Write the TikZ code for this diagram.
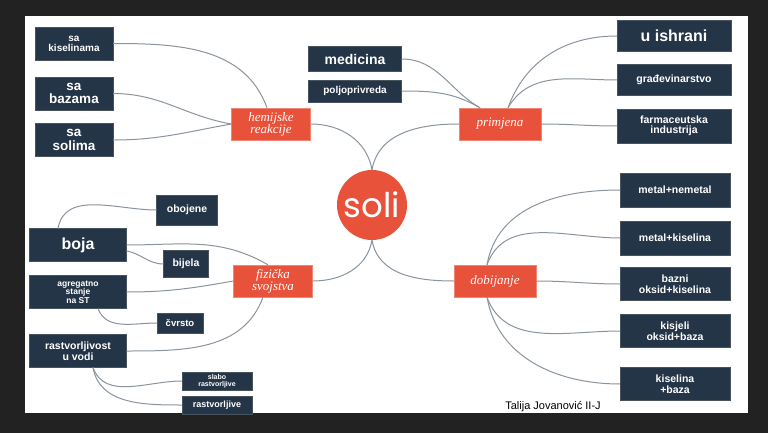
\documentclass[tikz,border=0pt]{standalone}
\usepackage{fontspec}
\setmainfont{Liberation Sans}
\newfontfamily\redf{Liberation Serif}
\newfontfamily\solif{Poppins}
\definecolor{navy}{HTML}{253548}
\definecolor{redb}{HTML}{E8513A}
\definecolor{bg}{HTML}{222222}
\definecolor{ln}{HTML}{8A949E}
\begin{document}
\begin{tikzpicture}[x=1pt,y=-1pt,
  nb/.style={fill=navy,text=white,font=\bfseries\fontsize{#1}{#1}\selectfont,align=center,inner sep=0pt,outer sep=0pt,draw=navy!60!gray,line width=0.6pt},
  nb/.default=9,
  rb/.style={fill=redb,text=white,font=\redf\itshape\fontsize{13}{12}\selectfont,align=center,inner sep=0pt,minimum width=79pt,minimum height=32pt,draw=redb!70!white},
  cn/.style={draw=ln,line width=1pt}]
\useasboundingbox (0,0) rectangle (768,433);
\fill[bg] (0,0) rectangle (768,433);
\fill[white] (25,16) rectangle (748,413);
% nodes
\node[nb=10,minimum width=78pt,minimum height=33pt] (k) at (74,43.5) {sa\\kiselinama};
\node[nb=13.5,minimum width=78pt,minimum height=33pt] (b) at (74,93.5) {sa\\bazama};
\node[nb=13.5,minimum width=78pt,minimum height=33pt] (s) at (74,140) {sa\\solima};
\node[rb] (h) at (271,124) {hemijske\\reakcije};
\node[nb=14,minimum width=93pt,minimum height=25pt] (med) at (355,59) {medicina};
\node[nb=10,minimum width=93pt,minimum height=22pt] (pol) at (355,91) {poljoprivreda};
\node[rb,minimum width=82pt] (pr) at (500,124) {primjena};
\node[nb=16,minimum width=114pt,minimum height=31pt] (ui) at (674,36) {u ishrani};
\node[nb=10.5,minimum width=114pt,minimum height=31pt] (gr) at (674,80) {građevinarstvo};
\node[nb=10.5,minimum width=114pt,minimum height=34pt] (fa) at (674,126) {farmaceutska\\industrija};
\node[circle,fill=redb,minimum size=70pt,text=white,font=\solif\fontsize{34}{34}\selectfont,inner sep=0pt] (soli) at (372,205) {soli};
\node[rb] (fz) at (273,281) {fizička\\svojstva};
\node[rb,minimum width=82pt] (db) at (495,281) {dobijanje};
\node[nb=10.5,minimum width=61pt,minimum height=30pt] (ob) at (187,210) {obojene};
\node[nb=16,minimum width=97pt,minimum height=33pt] (bo) at (78,245) {boja};
\node[nb=8.5,minimum width=97pt,minimum height=33pt] (ag) at (78,292) {agregatno\\stanje\\na ST};
\node[nb=10.5,minimum width=45pt,minimum height=27pt] (bi) at (186,264) {bijela};
\node[nb=9.5,minimum width=46pt,minimum height=20pt] (cv) at (180,323) {čvrsto};
\node[nb=10.5,minimum width=97pt,minimum height=33pt] (ra) at (78,351) {rastvorljivost\\u vodi};
\node[nb=7,minimum width=70pt,minimum height=18pt] (sr) at (217,381) {slabo\\rastvorljive};
\node[nb=9,minimum width=70pt,minimum height=18pt] (rv) at (217,405) {rastvorljive};
\node[nb=10.5,minimum width=110pt,minimum height=34pt] (d1) at (675,190) {metal+nemetal};
\node[nb=10.5,minimum width=110pt,minimum height=34pt] (d2) at (675,238) {metal+kiselina};
\node[nb=10.5,minimum width=110pt,minimum height=33pt] (d3) at (675,284) {bazni\\oksid+kiselina};
\node[nb=10.5,minimum width=110pt,minimum height=33pt] (d4) at (675,331) {kisjeli\\oksid+baza};
\node[nb=10.5,minimum width=110pt,minimum height=33pt] (d5) at (675,384) {kiselina\\+baza};
\node[font=\fontsize{11}{11}\selectfont,text=black] (au) at (553,407) {Talija Jovanović II-J};
% connectors
\draw[cn] (k.east) to[out=0,in=110] ([xshift=-4pt]h.north);
\draw[cn] (b.east) to[out=0,in=170] (h.west);
\draw[cn] (s.east) to[out=0,in=190] (h.west);
\draw[cn] (h.east) to[out=0,in=100] (soli.north);
\draw[cn] (med.east) to[out=0,in=150] ([xshift=-20pt]pr.north);
\draw[cn] (pol.east) to[out=0,in=150] ([xshift=-20pt]pr.north);
\draw[cn] (soli.north) to[out=80,in=180] (pr.west);
\draw[cn] ([xshift=8pt]pr.north) to[out=70,in=180] (ui.west);
\draw[cn] ([xshift=8pt]pr.north) to[out=60,in=180] (gr.west);
\draw[cn] (pr.east) to[out=0,in=180] (fa.west);
\draw[cn] (soli.south) to[out=-100,in=0] (fz.east);
\draw[cn] (soli.south) to[out=-80,in=180] (db.west);
\draw[cn] ([xshift=-8pt]db.north) to[out=80,in=180] (d1.west);
\draw[cn] ([xshift=-8pt]db.north) to[out=70,in=180] (d2.west);
\draw[cn] (db.east) to[out=0,in=180] (d3.west);
\draw[cn] ([xshift=-8pt]db.south) to[out=-70,in=180] (d4.west);
\draw[cn] ([xshift=-8pt]db.south) to[out=-80,in=180] (d5.west);
\draw[cn] (bo.east) to[out=0,in=150] ([xshift=-5pt]fz.north);
\draw[cn] (ag.east) to[out=0,in=190] (fz.west);
\draw[cn] (ra.east) to[out=0,in=-110] ([xshift=-10pt]fz.south);
\draw[cn] ([xshift=-20pt]bo.north) to[out=80,in=180] (ob.west);
\draw[cn] ([yshift=-6pt]bo.east) to[out=-10,in=180] (bi.west);
\draw[cn] ([xshift=20pt]ag.south) to[out=-70,in=180] (cv.west);
\draw[cn] ([xshift=15pt]ra.south) to[out=-70,in=180] (sr.west);
\draw[cn] ([xshift=15pt]ra.south) to[out=-80,in=180] (rv.west);
\end{tikzpicture}
\end{document}
